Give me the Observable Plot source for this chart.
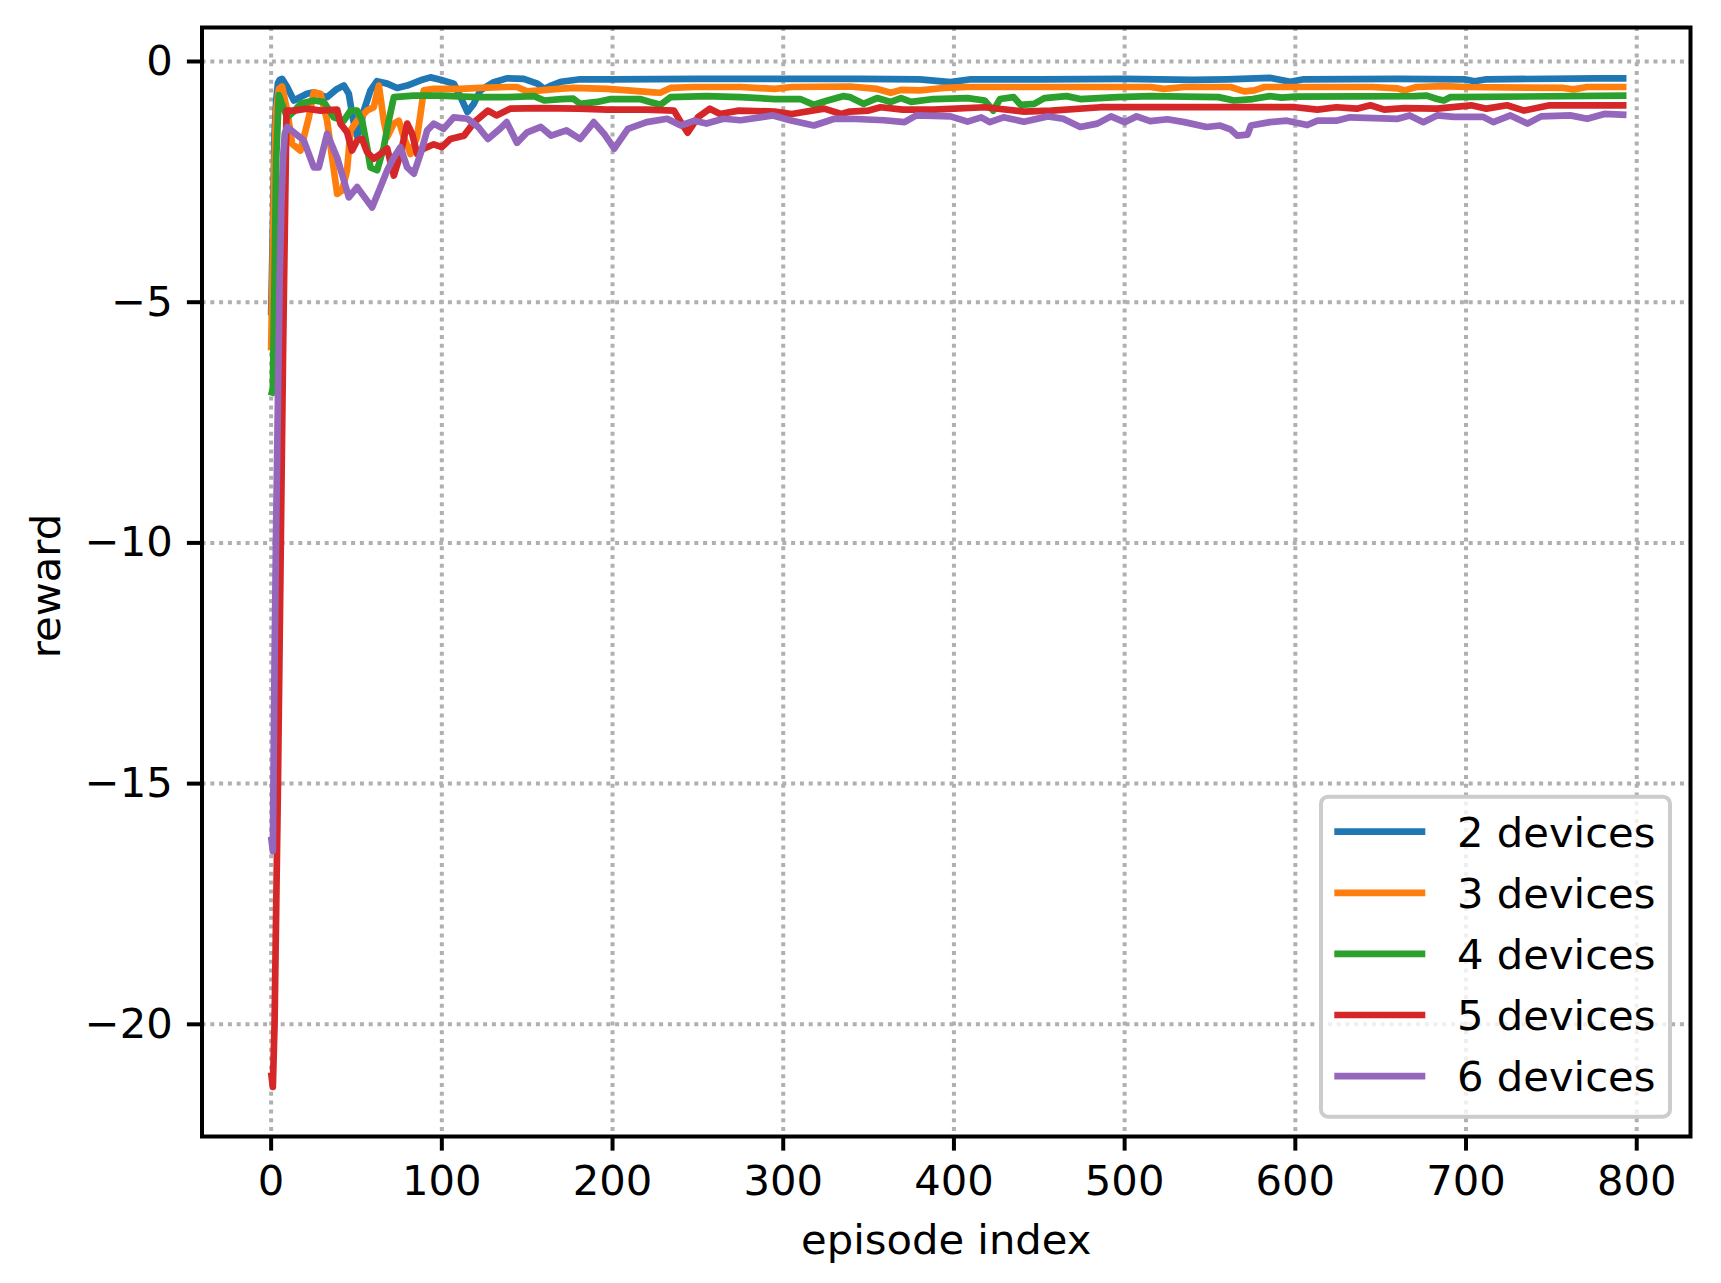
<!DOCTYPE html>
<html><head><meta charset="utf-8">
<script src="https://cdn.jsdelivr.net/npm/d3@7"></script>
<script src="https://cdn.jsdelivr.net/npm/@observablehq/plot@0.6"></script>
<style>body{margin:0;background:#fff;} svg{display:block}</style>
</head><body><div id="chart"></div>
<script>
const seriesNames = ["2 devices", "3 devices", "4 devices", "5 devices", "6 devices"];
const seriesColors = ["#1f77b4", "#ff7f0e", "#2ca02c", "#d62728", "#9467bd"];
const xTicks = [0, 100, 200, 300, 400, 500, 600, 700, 800];
const yTicks = [0, -5, -10, -15, -20];

// [episode index, reward]
const dev2 = [[0,-5.27],[1,-3.5],[2,-1.5],[3,-0.8],[4,-0.45],[5,-0.38],[6.4,-0.36],[9.4,-0.53],[13.3,-0.81],[17.2,-0.74],[21,-0.67],[25,-0.64],[29,-0.7],[32.8,-0.74],[38.6,-0.57],[42.6,-0.5],[45.5,-0.67],[48,-1.2],[50.3,-1.55],[52,-1.4],[54.3,-1.02],[58.2,-0.6],[62,-0.41],[68,-0.46],[73.8,-0.55],[79.7,-0.5],[87.5,-0.39],[93.3,-0.33],[99.2,-0.38],[107,-0.46],[111,-0.74],[115,-1.05],[118.7,-0.88],[122.6,-0.6],[130.4,-0.43],[138,-0.35],[148,-0.36],[156,-0.46],[160,-0.57],[164,-0.5],[170,-0.42],[181,-0.37],[200,-0.37],[250,-0.36],[300,-0.36],[345,-0.36],[380,-0.37],[398,-0.43],[410,-0.37],[450,-0.37],[500,-0.36],[540,-0.38],[560,-0.37],[585,-0.34],[597,-0.42],[605,-0.37],[660,-0.36],[699,-0.37],[705,-0.41],[712,-0.37],[777,-0.35],[794,-0.35]];
const dev3 = [[0,-6.0],[1,-4.0],[2,-2.0],[3,-1.0],[4.5,-0.57],[6.4,-0.52],[9.4,-1.02],[12.3,-1.71],[17.2,-1.85],[22.1,-1.16],[25,-0.64],[28.9,-0.67],[32.8,-1.23],[35.7,-1.99],[38.7,-2.75],[41.6,-2.68],[44.5,-2.26],[46.5,-1.43],[50.4,-1.23],[56.2,-1.02],[60.1,-0.95],[63.1,-0.5],[66,-1.23],[68,-1.57],[71.9,-1.29],[74.8,-1.23],[77.7,-1.57],[81.6,-1.92],[85.5,-1.57],[87.5,-1.09],[89.4,-0.6],[95.3,-0.57],[103,-0.57],[111,-0.57],[122.6,-0.55],[138,-0.53],[144,-0.53],[150,-0.62],[158,-0.6],[168,-0.57],[177,-0.55],[197,-0.57],[209,-0.6],[224,-0.64],[228,-0.65],[234,-0.55],[248,-0.53],[275,-0.53],[295,-0.57],[305,-0.53],[339,-0.52],[355,-0.57],[363,-0.65],[369,-0.59],[380,-0.6],[394,-0.55],[408,-0.53],[515,-0.53],[523,-0.57],[535,-0.53],[562,-0.53],[570,-0.62],[576,-0.6],[582,-0.53],[645,-0.53],[660,-0.56],[664,-0.6],[671,-0.53],[687,-0.51],[700,-0.53],[757,-0.55],[763,-0.58],[771,-0.53],[794,-0.53]];
const dev4 = [[0,-6.94],[1,-6.8],[2,-4.5],[3,-2.0],[4.5,-0.7],[6,-0.85],[9.4,-1.16],[13,-1.05],[17.2,-0.88],[25,-0.81],[30.8,-0.84],[36.7,-1.16],[42.6,-1.23],[46.5,-1.02],[50.4,-1.02],[53.3,-1.23],[56.2,-1.78],[58.2,-2.2],[62.1,-2.26],[66,-1.78],[68.9,-1.23],[71.9,-0.74],[83.6,-0.71],[99.2,-0.71],[120,-0.74],[138,-0.74],[154,-0.72],[160,-0.81],[170,-0.78],[177,-0.77],[181,-0.88],[191,-0.84],[199,-0.78],[216,-0.78],[222,-0.84],[228,-0.9],[234,-0.74],[255,-0.72],[275,-0.74],[295,-0.78],[310,-0.78],[318,-0.9],[326,-0.81],[335,-0.72],[339,-0.74],[347,-0.88],[355,-0.76],[363,-0.84],[369,-0.76],[375,-0.84],[388,-0.78],[408,-0.76],[418,-0.81],[423,-1.02],[427,-0.78],[435,-0.74],[439,-0.9],[447,-0.88],[453,-0.76],[466,-0.72],[474,-0.78],[496,-0.74],[515,-0.72],[555,-0.74],[564,-0.81],[575,-0.78],[585,-0.72],[592,-0.75],[600,-0.73],[670,-0.72],[677,-0.71],[683,-0.78],[687,-0.81],[691,-0.74],[794,-0.71]];
const dev5 = [[0,-21.0],[1,-21.3],[2,-20.0],[3,-17.5],[4,-15.0],[5,-12.0],[6,-9.0],[7,-6.0],[8,-3.5],[9,-1.02],[13.3,-1.02],[21,-0.98],[28.9,-1.02],[38.7,-1.0],[40.6,-1.29],[44.5,-1.47],[47.4,-1.85],[50.4,-1.64],[53.3,-1.61],[56.2,-1.88],[60.1,-2.02],[64,-1.92],[68,-1.81],[71.9,-2.37],[75.8,-1.92],[79.7,-1.29],[82.6,-1.5],[85.5,-1.92],[89.4,-1.81],[95.3,-1.72],[100,-1.78],[105,-1.61],[113,-1.54],[119,-1.26],[127,-1.02],[132,-1.12],[140,-0.98],[158,-0.97],[180,-0.98],[197,-1.0],[220,-1.0],[236,-1.02],[240,-1.26],[244,-1.48],[250,-1.16],[257,-0.98],[263,-1.09],[274,-1.02],[295,-1.04],[305,-1.09],[324,-0.98],[334,-1.09],[339,-1.04],[350,-1.02],[357,-0.95],[370,-1.0],[388,-1.0],[418,-0.95],[441,-1.04],[457,-1.02],[486,-0.95],[585,-0.95],[600,-0.95],[613,-1.0],[624,-0.95],[636,-0.98],[644,-0.91],[652,-1.0],[664,-0.97],[683,-0.98],[703,-0.91],[712,-0.98],[724,-0.91],[734,-1.02],[749,-0.91],[794,-0.91]];
const dev6 = [[0,-16.1],[1,-16.4],[2,-12.5],[3,-9.5],[4,-7.0],[5,-4.5],[6,-3.0],[7,-2.0],[8,-1.5],[9.4,-1.36],[13.3,-1.47],[19.1,-1.64],[25,-2.2],[27.9,-2.2],[32.8,-1.5],[38.7,-2.0],[42.6,-2.47],[45.5,-2.82],[50.4,-2.61],[56.2,-2.89],[59.2,-3.03],[64,-2.61],[68,-2.26],[71.9,-1.99],[75.8,-1.78],[79.7,-2.2],[83.6,-2.33],[87.5,-1.92],[91.4,-1.43],[95.3,-1.29],[101,-1.4],[107,-1.16],[115,-1.19],[121,-1.35],[127,-1.61],[134,-1.4],[138,-1.26],[144,-1.69],[150,-1.47],[158,-1.36],[164,-1.54],[173,-1.43],[181,-1.61],[189,-1.26],[195,-1.5],[201,-1.81],[209,-1.4],[220,-1.26],[232,-1.19],[240,-1.33],[248,-1.23],[255,-1.29],[265,-1.19],[275,-1.22],[294,-1.12],[304,-1.22],[318,-1.33],[330,-1.19],[339,-1.19],[359,-1.22],[371,-1.26],[378,-1.12],[398,-1.14],[408,-1.25],[416,-1.16],[421,-1.26],[429,-1.16],[441,-1.25],[455,-1.14],[464,-1.19],[474,-1.36],[484,-1.29],[492,-1.14],[500,-1.26],[507,-1.14],[515,-1.24],[525,-1.2],[535,-1.26],[548,-1.36],[556,-1.33],[562,-1.41],[566,-1.54],[572,-1.52],[574,-1.33],[585,-1.26],[595,-1.23],[607,-1.32],[613,-1.23],[624,-1.23],[632,-1.16],[660,-1.19],[667,-1.12],[675,-1.26],[683,-1.12],[693,-1.15],[710,-1.15],[716,-1.26],[726,-1.12],[736,-1.29],[744,-1.14],[761,-1.12],[771,-1.19],[781,-1.09],[794,-1.11]];

const seriesData = [dev2, dev3, dev4, dev5, dev6];
const rows = seriesData.flatMap((pts, i) => pts.map(([episode, reward]) => ({series: seriesNames[i], episode, reward})));

const W = 1721, H = 1283;
const mL = 201.5, mR = 31, mT = 27, mB = 147;
const FS = 41.7;
const LW = 6.7;
const gridStyle = {stroke: "#b0b0b0", strokeOpacity: 1, strokeWidth: 4, strokeDasharray: "4,4.8"};

const chart = Plot.plot({
  width: W, height: H,
  marginLeft: mL, marginRight: mR, marginTop: mT, marginBottom: mB,
  style: {fontFamily: "DejaVu Sans", fontSize: FS + "px", color: "black", background: "white", overflow: "visible"},
  x: {domain: [-40.5, 831.5], axis: null},
  y: {domain: [-22.33, 0.706], axis: null},
  color: {domain: seriesNames, range: seriesColors},
  marks: [
    Plot.gridX(xTicks, gridStyle),
    Plot.gridY(yTicks, gridStyle),
    Plot.line(rows, {x: "episode", y: "reward", z: "series", stroke: "series", strokeWidth: LW, strokeLinejoin: "round", strokeLinecap: "butt"}),
    Plot.axisX(xTicks, {tickSize: 14.6, tickPadding: 14.6, strokeWidth: 4, label: null, fontSize: FS}),
    Plot.axisY(yTicks, {tickSize: 14.6, tickPadding: 14.6, strokeWidth: 4, label: null, fontSize: FS}),
    Plot.text(["episode index"], {frameAnchor: "bottom", dy: 104, lineAnchor: "middle", textAnchor: "middle", fontSize: FS, fill: "black"}),
    Plot.text(["reward"], {frameAnchor: "left", dx: -155, dy: 4, rotate: -90, lineAnchor: "middle", textAnchor: "middle", fontSize: FS, fill: "black"}),
    Plot.frame({stroke: "black", strokeWidth: 4})
  ]
});
document.getElementById("chart").appendChild(chart);

// legend (lower right, inside the frame)
const frameRight = W - mR, frameBottom = H - mB;
const boxW = 349, boxH = 320;
const boxX = frameRight - 20 - boxW, boxY = frameBottom - 19.3 - boxH;
const lg = d3.select(chart).append("g").attr("font-family", "DejaVu Sans").attr("font-size", FS).attr("text-anchor", "start");
lg.append("rect").attr("x", boxX).attr("y", boxY).attr("width", boxW).attr("height", boxH)
  .attr("rx", 7).attr("fill", "white").attr("fill-opacity", 0.8)
  .attr("stroke", "#cccccc").attr("stroke-width", 4);
seriesNames.forEach((name, i) => {
  const cy = boxY + 35 + i * 61.1;
  lg.append("line").attr("x1", boxX + 13.3).attr("x2", boxX + 104.3).attr("y1", cy).attr("y2", cy)
    .attr("stroke", seriesColors[i]).attr("stroke-width", LW);
  lg.append("text").attr("x", boxX + 136).attr("y", cy).attr("dy", "0.36em").attr("fill", "black").attr("text-anchor", "start").text(name);
});
</script>
</body></html>
